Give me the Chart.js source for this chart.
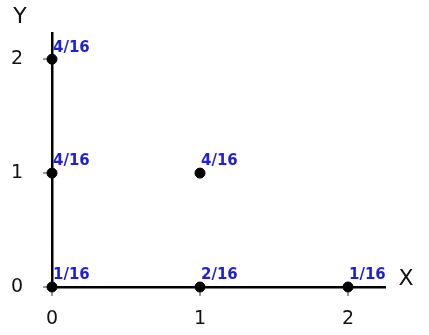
<!DOCTYPE html>
<html>
<head>
<meta charset="utf-8">
<script src="https://cdn.jsdelivr.net/npm/chart.js@4/dist/chart.umd.min.js"></script>
<style>
  html, body { margin: 0; padding: 0; background: #fff; }
  #wrap { width: 429px; height: 335px; }
</style>
</head>
<body>
<div id="wrap"><canvas id="myChart"></canvas></div>
<script>
// joint distribution values
const xValues = [0, 1, 2, 0, 1, 0];
const yValues = [0, 0, 0, 1, 1, 2];
const probLabels = ['1/16', '2/16', '1/16', '4/16', '4/16', '4/16'];
const xTicks = [0, 1, 2];
const yTicks = [0, 1, 2];

const handFont = 'DejaVu Sans';

// draws the blue probability labels and the X / Y axis names
const labelPlugin = {
    id: 'labelPlugin',
    afterDatasetsDraw(chart) {
        const ctx = chart.ctx;
        const meta = chart.getDatasetMeta(0);
        ctx.save();
        ctx.fillStyle = '#1f1fd6';
        ctx.font = 'bold 15px ' + handFont;
        ctx.textAlign = 'left';
        ctx.textBaseline = 'bottom';
        meta.data.forEach((pt, i) => {
            ctx.fillText(probLabels[i], pt.x + 1, pt.y - 4);
        });

        const area = chart.chartArea;
        ctx.fillStyle = '#111';
        ctx.font = '22px ' + handFont;
        ctx.textAlign = 'center';
        ctx.textBaseline = 'middle';
        ctx.fillText('X', area.right + 21, area.bottom - 8);
        ctx.fillText('Y', area.left - 32, area.top - 16);
        ctx.restore();
    }
};

const ctx = document.getElementById('myChart');

const myChart = new Chart(ctx, {
    type: 'scatter',
    data: {
        datasets: [{
            data: xValues.map((x, i) => ({ x: x, y: yValues[i] })),
            backgroundColor: '#000',
            borderColor: '#000',
            pointRadius: 5,
            pointHoverRadius: 5,
            clip: false,
        }]
    },
    options: {
        responsive: true,
        maintainAspectRatio: false,
        animation: false,
        layout: { padding: { top: 33, right: 44, left: 0, bottom: 0 } },
        plugins: {
            legend: { display: false },
            tooltip: { enabled: false },
        },
        scales: {
            x: {
                type: 'linear',
                min: 0,
                max: 2.25,
                afterFit: (scale) => { scale.height = 48; },
                afterBuildTicks: (scale) => { scale.ticks = xTicks.map(v => ({ value: v })); },
                border: { color: '#000', width: 2.5 },
                grid: { drawOnChartArea: false, tickLength: 9, color: '#999', lineWidth: 2 },
                ticks: {
                    color: '#111',
                    padding: 12,
                    font: { family: handFont, size: 19 },
                },
            },
            y: {
                type: 'linear',
                min: 0,
                max: 2.23,
                afterFit: (scale) => { scale.width = 52; },
                afterBuildTicks: (scale) => { scale.ticks = yTicks.map(v => ({ value: v })); },
                border: { color: '#000', width: 2.5 },
                grid: { drawOnChartArea: false, tickLength: 9, color: '#999', lineWidth: 2 },
                ticks: {
                    color: '#111',
                    padding: 20,
                    font: { family: handFont, size: 19 },
                },
            }
        }
    },
    plugins: [labelPlugin]
});
</script>
</body>
</html>
